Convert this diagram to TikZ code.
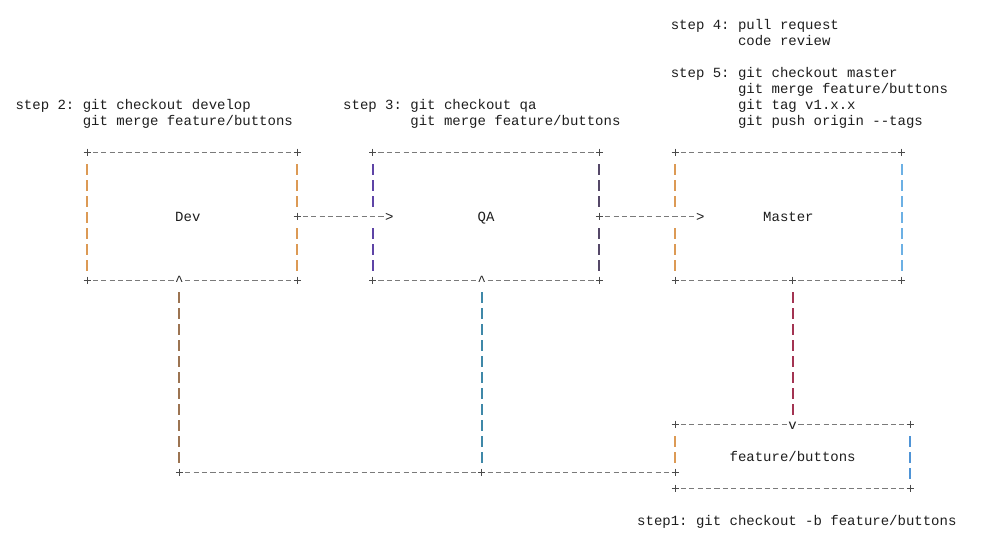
\documentclass[tikz,border=0pt]{standalone}
\usepackage{fontspec}
\newfontfamily\courfont{Liberation Mono}
\definecolor{textc}{HTML}{1E1E1E}
\definecolor{dashc}{HTML}{7A7A7A}
\definecolor{plusc}{HTML}{4A4A4A}
\definecolor{vorange}{HTML}{DC9A55}
\definecolor{vpurple}{HTML}{5E44A6}
\definecolor{vdark}{HTML}{554868}
\definecolor{vlblue}{HTML}{6CB0E4}
\definecolor{vblue}{HTML}{4F94D6}
\definecolor{vbrown}{HTML}{9C7452}
\definecolor{vteal}{HTML}{3F88A8}
\definecolor{vcrimson}{HTML}{A33452}
% grid helpers (px units, y downwards)
\newcommand\xhd[3]{\foreach \c in {#1,...,#2}{\draw[hdash] ({19.8+8.4*\c-2.65},{24.5+16*#3}) -- ++(5.3,0);}}
% column, first row, last row, colour
\newcommand\xvb[4]{\foreach \r in {#2,...,#3}{%
  \draw[vbar,draw=#4] ({round(19.8+8.4*#1)},{24.5+16*\r-4.25}) -- ++(0,10.5);}}
\newcommand\xpl[2]{\draw[plusmark] ({19.8+8.4*#1-3.5},{24.5+16*#2}) -- ++(7,0) ({19.8+8.4*#1},{24.5+16*#2-3.8}) -- ++(0,7.6);}
\newcommand\xtx[4]{\node[txt] (#1) at ({15.6+8.4*#2},{29+16*#3}) {#4};}
\begin{document}
\begin{tikzpicture}[x=0.75pt,y=-0.75pt,
  txt/.style={font=\courfont\fontsize{10.5pt}{12pt}\selectfont\frenchspacing, text=textc, inner sep=0pt, outer sep=0pt, anchor=base west},
  hdash/.style={draw=dashc, line width=0.75pt},
  vbar/.style={line width=1.15pt},
  plusmark/.style={draw=plusc, line width=0.7pt}]
\useasboundingbox[fill=white] (0,0) rectangle (997,550);

% ---- texts
\xtx{s4a}{78}{0}{step 4: pull request}
\xtx{s4b}{86}{1}{code review}
\xtx{s5a}{78}{3}{step 5: git checkout master}
\xtx{s5b}{86}{4}{git merge feature/buttons}
\xtx{s5c}{86}{5}{git tag v1.x.x}
\xtx{s5d}{86}{6}{git push origin -{}-tags}
\xtx{s2a}{0}{5}{step 2: git checkout develop}
\xtx{s2b}{8}{6}{git merge feature/buttons}
\xtx{s3a}{39}{5}{step 3: git checkout qa}
\xtx{s3b}{47}{6}{git merge feature/buttons}
\xtx{dev}{19}{12}{Dev}
\xtx{qa}{55}{12}{QA}
\xtx{master}{89}{12}{Master}
\xtx{feat}{85}{27}{feature/buttons}
\xtx{s1}{74}{31}{step1: git checkout -b feature/buttons}

% ---- Dev box
\xpl{8}{8} \xhd{9}{32}{8} \xpl{33}{8}
\xvb{8}{9}{15}{vorange}
\xvb{33}{9}{11}{vorange} \xpl{33}{12} \xvb{33}{13}{15}{vorange}
\xpl{8}{16} \xhd{9}{18}{16} \xtx{up1}{19}{16}{\textasciicircum} \xhd{20}{32}{16} \xpl{33}{16}

% ---- QA box
\xpl{42}{8} \xhd{43}{68}{8} \xpl{69}{8}
\xvb{42}{9}{11}{vpurple} \xvb{42}{13}{15}{vpurple}
\xvb{69}{9}{11}{vdark} \xpl{69}{12} \xvb{69}{13}{15}{vdark}
\xpl{42}{16} \xhd{43}{54}{16} \xtx{up2}{55}{16}{\textasciicircum} \xhd{56}{68}{16} \xpl{69}{16}

% ---- Master box
\xpl{78}{8} \xhd{79}{104}{8} \xpl{105}{8}
\xvb{78}{9}{11}{vorange} \xvb{78}{13}{15}{vorange}
\xvb{105}{9}{15}{vlblue}
\xpl{78}{16} \xhd{79}{91}{16} \xpl{92}{16} \xhd{93}{104}{16} \xpl{105}{16}

% ---- arrows Dev -> QA -> Master
\xhd{34}{43}{12} \xtx{ar1}{44}{12}{>}
\xhd{70}{80}{12} \xtx{ar2}{81}{12}{>}

% ---- connectors down
\xvb{19}{17}{27}{vbrown}
\xvb{55}{17}{27}{vteal}
\xvb{92}{17}{24}{vcrimson}

% ---- feature/buttons box
\xpl{78}{25} \xhd{79}{91}{25} \xtx{dn}{92}{25}{v} \xhd{93}{105}{25} \xpl{106}{25}
\xvb{78}{26}{27}{vorange}
\xvb{106}{26}{28}{vblue}
\xpl{78}{29} \xhd{79}{105}{29} \xpl{106}{29}

% ---- bottom line
\xpl{19}{28} \xhd{20}{54}{28} \xpl{55}{28} \xhd{56}{77}{28} \xpl{78}{28}
\end{tikzpicture}
\end{document}
